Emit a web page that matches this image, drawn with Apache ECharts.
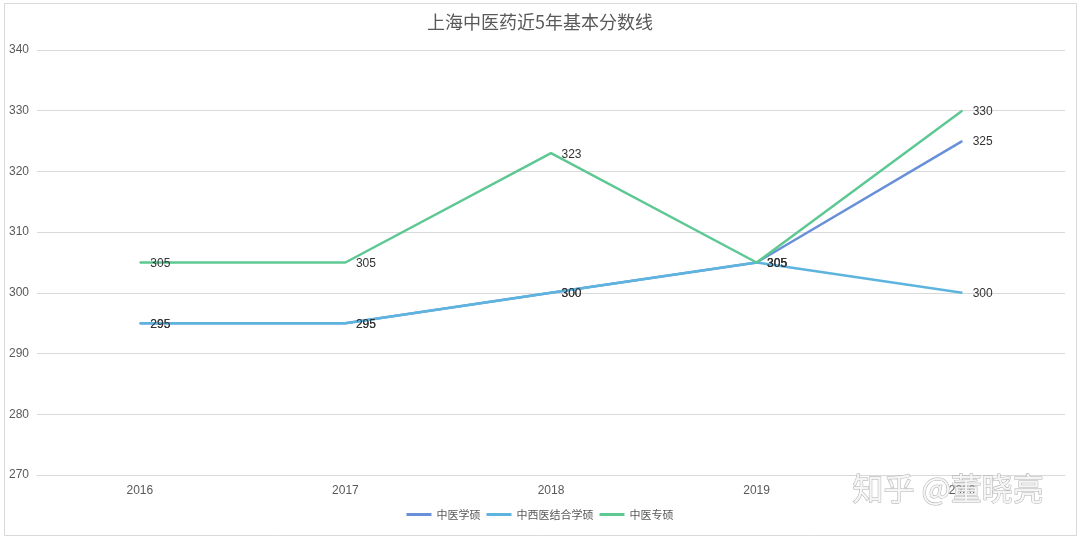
<!DOCTYPE html>
<html><head><meta charset="utf-8">
<script src="https://cdn.jsdelivr.net/npm/echarts@6/dist/echarts.min.js"></script>
<style>html,body{margin:0;padding:0;background:#fff}#c{width:1080px;height:537px}</style>
</head><body><div id="c"></div>
<script>
const years = ['2016','2017','2018','2019','2020'];
const tcmAcademic = [295, 295, 300, 305, 325];
const integratedAcademic = [295, 295, 300, 305, 300];
const tcmProfessional = [305, 305, 323, 305, 330];
const seriesNames = ['中医学硕','中西医结合学硕','中医专硕'];
const colors = ['#6890d8','#5db4df','#5ec893'];

const chart = echarts.init(document.getElementById('c'));
const mk = (name, data, color, z) => ({
  name, type: 'line', data, z, color,
  symbol: 'circle', symbolSize: 1,
  itemStyle: { color },
  lineStyle: { color, width: 2.5 },
  label: { show: true, position: 'right', distance: 10, offset: [0, 1], color: '#333', fontSize: 12, fontFamily: 'Liberation Sans, Arial, sans-serif' },
  emphasis: { disabled: true },
  animation: false
});
chart.setOption({
  backgroundColor: '#fff',
  title: { text: '上海中医药近5年基本分数线', left: 'center', top: 8,
    textStyle: { fontSize: 18, fontWeight: 'normal', color: '#595959', fontFamily: 'Noto Sans CJK SC' } },
  legend: { bottom: 12, left: 'center', itemWidth: 25, itemHeight: 3, icon: 'rect', itemGap: 6,
    textStyle: { fontSize: 11, color: '#595959', fontFamily: 'Noto Sans CJK SC' },
    data: seriesNames },
  grid: { left: 37, right: 15, top: 50, bottom: 62, containLabel: false },
  xAxis: { type: 'category', data: years, boundaryGap: true,
    axisLine: { show: true, lineStyle: { color: '#d9d9d9' } },
    axisTick: { show: false },
    axisLabel: { color: '#595959', fontSize: 12, margin: 10, fontFamily: 'Liberation Sans, Arial, sans-serif' } },
  yAxis: { type: 'value', min: 270, max: 340, interval: 10,
    axisLine: { show: false }, axisTick: { show: false },
    splitLine: { lineStyle: { color: '#d9d9d9' } },
    axisLabel: { color: '#595959', fontSize: 12, margin: 8, fontFamily: 'Liberation Sans, Arial, sans-serif' } },
  graphic: [
    { type: 'rect', left: 2, top: 1, shape: { width: 1072, height: 532 }, style: { fill: 'none', stroke: '#d9d9d9', lineWidth: 1 }, z: -1 },
    { type: 'text', left: 852, top: 472, style: { text: '知乎 @董晓亮', fontSize: 31, fill: 'rgba(246,246,246,0.95)', stroke: '#b0b0b0', lineWidth: 1, fontFamily: 'Noto Sans CJK SC' }, z: 100 }
  ],
  series: [
    mk(seriesNames[0], tcmAcademic, colors[0], 2),
    mk(seriesNames[1], integratedAcademic, colors[1], 3),
    mk(seriesNames[2], tcmProfessional, colors[2], 4)
  ]
});
</script></body></html>
